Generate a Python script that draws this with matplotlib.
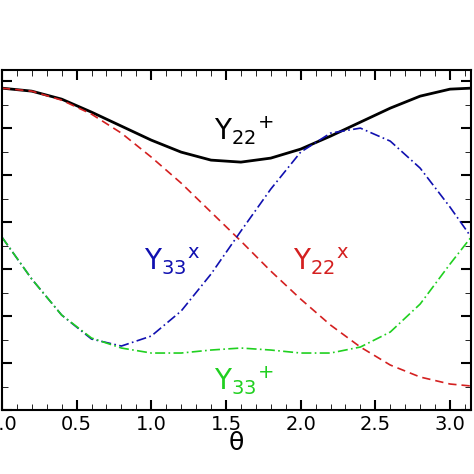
import numpy as np
import matplotlib
matplotlib.use("Agg")
import matplotlib.pyplot as plt
from matplotlib.ticker import MultipleLocator

theta = [0,0.2,0.4,0.6,0.8,1.0,1.2,1.4,1.6,1.8,2.0,2.2,2.4,2.6,2.8,3.0,np.pi]
y22p = [322,319,311,298,284,270,258,250,248,252,261,274,288,302,314,321,322]
y22x = [322,319,310,296,277,253,227,198,169,139,111,85,63,45,33,26,24]
y33x = [173,131,95,71,64,74,99,136,179,221,258,277,282,269,242,203,173]
y33p = [173,131,95,72,62,57,57,60,62,60,57,57,63,78,106,146,173]

fig = plt.figure(figsize=(4.74,4.74), dpi=100)
ax = fig.add_axes([0.004,0.135,0.99,0.717])
ax.plot(theta, y22p, color='black', lw=2)
ax.plot(theta, y22x, color='#d42020', lw=1.2, ls=(0,(5,3)))
ax.plot(theta, y33x, color='#1010b0', lw=1.2, ls=(0,(6,2,1,2)))
ax.plot(theta, y33p, color='#20d020', lw=1.2, ls=(0,(6,2,1,2)))
ax.set_xlim(0,3.14159)
ax.set_ylim(0,340)
ax.xaxis.set_major_locator(MultipleLocator(0.5))
ax.xaxis.set_minor_locator(MultipleLocator(0.1))
ax.yaxis.set_major_locator(MultipleLocator(47))
ax.yaxis.set_minor_locator(MultipleLocator(23.5))
ax.tick_params(which='both', direction='in', top=True, right=True, labelsize=14)
ax.tick_params(which='major', length=7, width=1.5)
ax.tick_params(which='minor', length=4)
ax.set_yticklabels([])
ax.set_xticks([0,0.5,1,1.5,2,2.5,3])
ax.set_xticklabels(['0.0','0.5','1.0','1.5','2.0','2.5','3.0'])
for s in ax.spines.values(): s.set_linewidth(1.5)
ax.set_xlabel('θ', fontsize=18, labelpad=-2)
ax.text(1.42, 270, r'Y$_{22}$$^{+}$', fontsize=20, color='black')
ax.text(0.95, 140, r'Y$_{33}$$^{\mathrm{x}}$', fontsize=20, color='#1010b0')
ax.text(1.95, 140, r'Y$_{22}$$^{\mathrm{x}}$', fontsize=20, color='#d42020')
ax.text(1.42, 20, r'Y$_{33}$$^{+}$', fontsize=20, color='#20d020')
fig.savefig('out.png', dpi=100)
